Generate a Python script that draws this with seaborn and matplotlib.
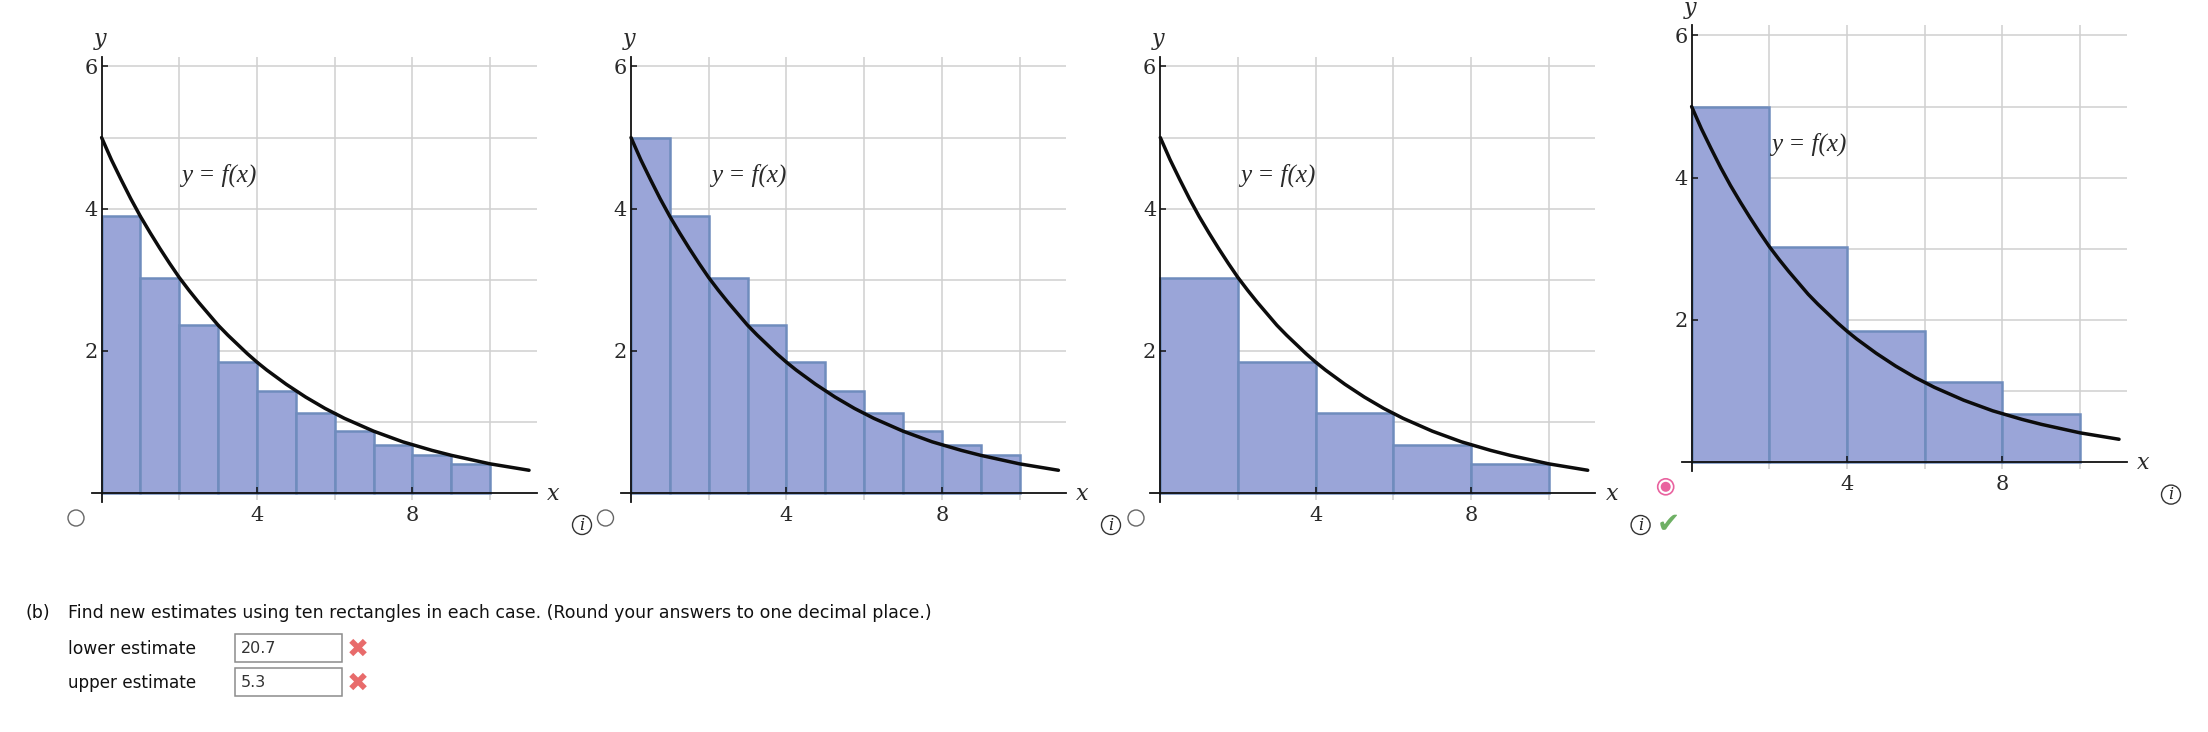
import matplotlib
matplotlib.use("Agg")
import matplotlib.pyplot as plt
from matplotlib.patches import Circle, Rectangle
import seaborn as sns

# values
curve_x = [0, 0.25, 0.5, 0.75, 1, 1.25, 1.5, 1.75, 2, 2.25, 2.5, 2.75, 3, 3.25, 3.5, 3.75, 4, 4.25, 4.5, 4.75,
           5, 5.25, 5.5, 5.75, 6, 6.25, 6.5, 6.75, 7, 7.25, 7.5, 7.75, 8, 8.5, 9, 9.5, 10, 10.5, 11]
curve_y = [5.0, 4.69, 4.41, 4.14, 3.89, 3.66, 3.44, 3.23, 3.03, 2.85, 2.68, 2.52, 2.36, 2.22, 2.09, 1.96,
           1.84, 1.73, 1.63, 1.53, 1.44, 1.35, 1.27, 1.19, 1.12, 1.05, 0.99, 0.93, 0.87, 0.82,
           0.77, 0.72, 0.68, 0.60, 0.53, 0.47, 0.41, 0.365, 0.32]

mids_ten = [0.5, 1.5, 2.5, 3.5, 4.5, 5.5, 6.5, 7.5, 8.5, 9.5]
mids_five = [1, 3, 5, 7, 9]
lower_ten = [3.89, 3.03, 2.36, 1.84, 1.44, 1.12, 0.87, 0.68, 0.53, 0.41]
upper_ten = [5.0, 3.89, 3.03, 2.36, 1.84, 1.44, 1.12, 0.87, 0.68, 0.53]
lower_five = [3.03, 1.84, 1.12, 0.68, 0.41]
upper_five = [5.0, 3.03, 1.84, 1.12, 0.68]

x_ticks = [4, 8]
y_ticks = [2, 4, 6]
x_grid = [2, 4, 6, 8, 10]
y_grid = [1, 2, 3, 4, 5, 6]

W, H = 2208, 732
SERIF = "DejaVu Serif"

sns.set_theme(style="white")
plt.rcParams["font.family"] = "DejaVu Sans"

fig = plt.figure(figsize=(W / 100, H / 100), dpi=100)


def panel(x0, y0, mids, heights, label_x=2.05):
    left = x0 - 9.9
    bottom = y0 + 8.9
    ax = fig.add_axes([left / W, 1 - bottom / H, 445.1 / W, 445.4 / H])
    ax.patch.set_alpha(0)

    ax.hlines(y_grid, 0, 11.2, color="#d0d0d0", lw=1.1, zorder=1)
    ax.vlines(x_grid, -0.1, 6.14, color="#d0d0d0", lw=1.1, zorder=1)

    sns.barplot(x=mids, y=heights, native_scale=True, width=1, color="#9aa5d8", saturation=1,
                edgecolor="#6f8cbd", linewidth=1.8, errorbar=None, zorder=2, ax=ax)
    sns.lineplot(x=curve_x, y=curve_y, color="#0c0c0c", lw=2.5, errorbar=None, zorder=4, ax=ax)

    ax.set_xlim(-0.255, 11.2)
    ax.set_ylim(-0.125, 6.14)
    ax.set_xlabel("")
    ax.set_ylabel("")
    ax.grid(False)
    ax.set_axisbelow(False)  # seaborn's style puts ticks under the bars

    for side in ["top", "right"]:
        ax.spines[side].set_visible(False)
    for side in ["left", "bottom"]:
        ax.spines[side].set_position(("data", 0))
        ax.spines[side].set_color("#111111")
        ax.spines[side].set_linewidth(1.3)
        ax.spines[side].set_zorder(5)

    ax.set_xticks(x_ticks, [str(v) for v in x_ticks])
    ax.set_yticks(y_ticks, [str(v) for v in y_ticks])
    ax.tick_params(axis="x", bottom=True, direction="in", length=4, width=1.1, color="#111111", pad=9,
                   labelsize=15, labelcolor="#2a2a2a")
    ax.tick_params(axis="y", left=True, direction="in", length=4, width=1.1, color="#111111", pad=3,
                   labelsize=15, labelcolor="#2a2a2a")
    for t in ax.get_xticklabels() + ax.get_yticklabels():
        t.set_family(SERIF)

    ax.text(-0.05, 6.38, "y", family=SERIF, style="italic", fontsize=16, color="#2a2a2a",
            ha="center", va="center", clip_on=False)
    ax.text(11.62, -0.02, "x", family=SERIF, style="italic", fontsize=16, color="#2a2a2a",
            ha="center", va="center", clip_on=False)
    ax.text(label_x, 4.47, "y = f(x)", family="Liberation Serif", style="italic", fontsize=18,
            color="#2a2a2a", ha="left", va="center", zorder=6)
    return ax


panel(101.6, 493, mids_ten, lower_ten)
panel(631, 493, mids_ten, upper_ten)
panel(1160.3, 493, mids_five, lower_five)
panel(1691.6, 462, mids_five, upper_five)

# the page furniture around the plots, in pixel coordinates
ui = fig.add_axes([0, 0, 1, 1], zorder=10)
ui.set_xlim(0, W)
ui.set_ylim(H, 0)
ui.axis("off")
ui.patch.set_alpha(0)


def info(x, y):
    ui.add_patch(Circle((x, y), 9.5, fill=False, ec="#333333", lw=1))
    ui.text(x, y, "i", family=SERIF, style="italic", fontsize=11.5, color="#222222",
            ha="center", va="center")


for x, y in [(76, 518), (605.5, 518), (1136, 518)]:
    ui.add_patch(Circle((x, y), 8, fill=False, ec="#666666", lw=1))
for x, y in [(582, 525), (1111, 525), (1640.6, 525), (2171, 494.6)]:
    info(x, y)

ui.add_patch(Circle((1665.7, 486.8), 8, fill=False, ec="#e9629f", lw=1.2))
ui.add_patch(Circle((1665.7, 486.8), 5, fc="#e9629f", ec="none"))
ui.text(1668.7, 524, "\u2714", color="#6eb064", fontsize=20, ha="center", va="center")

TEXT = "#111111"
ui.text(25.7, 613, "(b)", fontsize=12.5, color=TEXT, va="center")
ui.text(67.6, 613, "Find new estimates using ten rectangles in each case. (Round your answers to one decimal place.)",
        fontsize=12.5, color=TEXT, va="center")
ui.text(67.6, 648.5, "lower estimate", fontsize=12.3, color=TEXT, va="center")
ui.text(67.6, 682.5, "upper estimate", fontsize=12.1, color=TEXT, va="center")

for y, value in [(634, "20.7"), (668, "5.3")]:
    ui.add_patch(Rectangle((235, y), 107, 28, fc="white", ec="#8c8c8c", lw=1.1))
    ui.text(240.6, y + 14.5, value, fontsize=11.5, color="#333333", va="center")
    ui.text(357.6, y + 16, "\u2716", fontsize=19, color="#e86b6b", ha="center", va="center")

fig.savefig("out.png", dpi=100, facecolor="white")
